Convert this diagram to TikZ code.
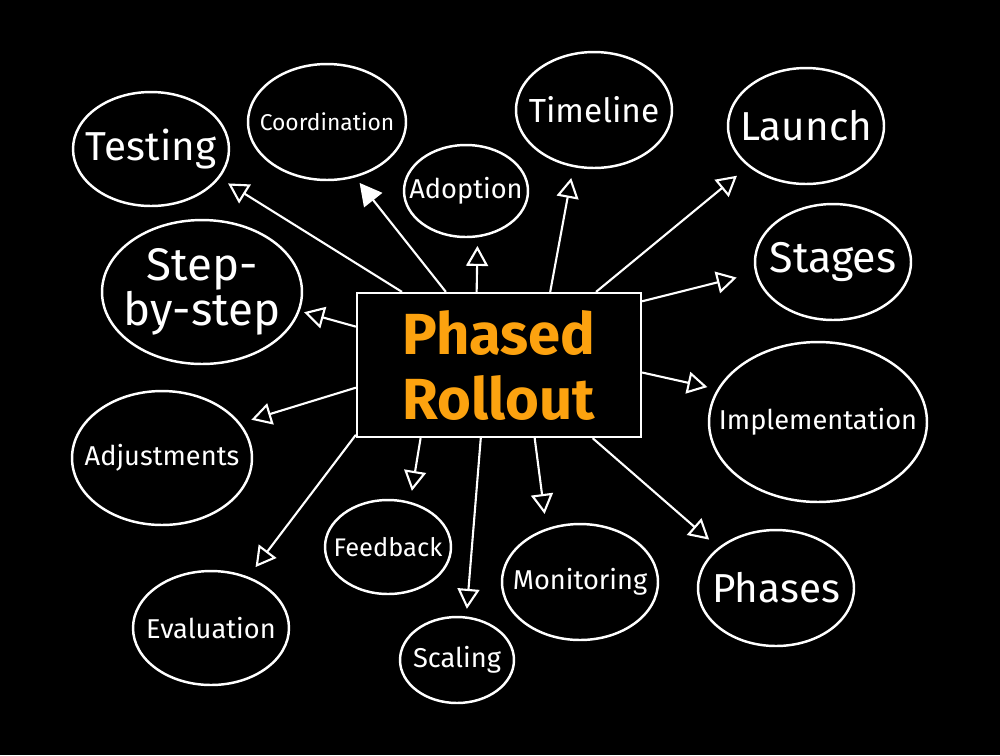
\documentclass[tikz,border=0pt]{standalone}
\usepackage{fontspec}
\setmainfont{Fira Sans}
\usepackage{xcolor}
\usetikzlibrary{shapes.geometric, arrows.meta, positioning, calc}
\definecolor{board}{HTML}{000000}
\definecolor{chalk}{HTML}{FFFFFF}
\definecolor{rollout}{HTML}{FCA20F}

\begin{document}
\begin{tikzpicture}[x=0.02cm, y=-0.02cm, every node/.style={font=\fontsize{15.5}{18}\selectfont, text=chalk},
  bubble/.style={ellipse, draw=chalk, line width=1.4pt, inner sep=0pt},
  big/.style={font=\fontsize{23}{26}\selectfont},
  spoke/.style={-{Triangle[open, length=4mm, width=4.4mm]}, chalk, line width=1.2pt},
  fullspoke/.style={-{Triangle[length=4.4mm, width=4.6mm]}, chalk, line width=1.2pt}]
  \useasboundingbox (0,0) rectangle (1000,755);
  \fill[board] (0,0) rectangle (1000,755);

  \node[draw=chalk, line width=1.3pt, minimum width=5.68cm, minimum height=2.88cm, align=center, text=rollout, font=\bfseries\fontsize{33}{37}\selectfont] (rollout) at (499,365) {Phased\\Rollout};

  \node[bubble, minimum width=3.12cm, minimum height=2.28cm, label={[big]center:Testing}] (testing) at (151,149) {};
  \node[bubble, minimum width=3.16cm, minimum height=2.32cm, label={[font=\fontsize{13}{15}\selectfont]center:Coordination}] (coordination) at (327,122) {};
  \node[bubble, minimum width=2.48cm, minimum height=1.84cm, label={center:Adoption}] (adoption) at (466,191) {};
  \node[bubble, minimum width=3.12cm, minimum height=2.32cm, label={[font=\fontsize{19}{22}\selectfont]center:Timeline}] (timeline) at (594,110) {};
  \node[bubble, minimum width=3.12cm, minimum height=2.32cm, label={[big]center:Launch}] (launch) at (806,126) {};
  \node[bubble, minimum width=3.12cm, minimum height=2.32cm, label={[font=\fontsize{24.5}{27}\selectfont]center:Stages}] (stages) at (833,262) {};
  \node[bubble, minimum width=4cm, minimum height=2.88cm, label={[align=center, font=\fontsize{26}{26}\selectfont]center:Step-\\by-step}] (stepbystep) at (202,292) {};
  \node[bubble, minimum width=4.36cm, minimum height=3.2cm, label={center:Implementation}] (implementation) at (818,422) {};
  \node[bubble, minimum width=3.6cm, minimum height=2.68cm, label={center:Adjustments}] (adjustments) at (162,458) {};
  \node[bubble, minimum width=3.12cm, minimum height=2.28cm, label={center:Evaluation}] (evaluation) at (211,628) {};
  \node[bubble, minimum width=2.52cm, minimum height=1.88cm, label={[font=\fontsize{14.5}{17}\selectfont]center:Feedback}] (feedback) at (388,547) {};
  \node[bubble, minimum width=2.28cm, minimum height=1.72cm, label={center:Scaling}] (scaling) at (457,660) {};
  \node[bubble, minimum width=3.12cm, minimum height=2.32cm, label={center:Monitoring}] (monitoring) at (580,582) {};
  \node[bubble, minimum width=3.12cm, minimum height=2.32cm, label={[big]center:Phases}] (phases) at (776,588) {};

  \draw[spoke, shorten >=0.2cm] (rollout.143) -- (testing.-23);
  \draw[fullspoke, shorten >=0.14cm] (rollout.126) -- (coordination.-63);
  \draw[spoke, shorten >=0.17cm] (rollout.107) -- (adoption.-76);
  \draw[spoke, shorten >=0.22cm] (rollout.55) -- (timeline.-110);
  \draw[spoke, shorten >=0.29cm] (rollout.37) -- (launch.-145);
  \draw[spoke, shorten >=0.38cm] (rollout.24) -- (stages.188);
  \draw[spoke, shorten >=0.09cm] (rollout.165) -- (stepbystep.-11);
  \draw[spoke, shorten >=0.2cm] (rollout.-3) -- (implementation.162);
  \draw[spoke, shorten >=0.23cm] (rollout.189) -- (adjustments.24);
  \draw[spoke, shorten >=0.24cm] (rollout.206) -- (evaluation.54);
  \draw[spoke, shorten >=0.22cm] (rollout.223) -- (feedback.64);
  \draw[spoke, shorten >=0.15cm] (rollout.256) -- (scaling.78);
  \draw[spoke, shorten >=0.29cm] (rollout.296) -- (monitoring.122);
  \draw[spoke, shorten >=0.24cm] (rollout.322) -- (phases.145);
\end{tikzpicture}
\end{document}
